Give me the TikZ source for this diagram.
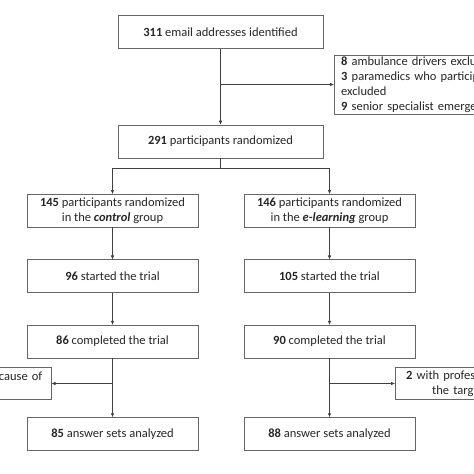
\documentclass[tikz,border=0pt]{standalone}
\usepackage{fontspec}
\setmainfont{Carlito}
\usetikzlibrary{arrows.meta,positioning}

\begin{document}
\begin{tikzpicture}[
  >={Latex[length=4pt,width=3.5pt]},
  every node/.style={font=\fontsize{12.5}{15}\selectfont, text=black!85},
  wbox/.style={draw=black!60, align=center, inner sep=1pt,
               minimum height=33pt, minimum width=205pt},
  sbox/.style={draw=black!60, align=center, inner sep=1pt,
               minimum height=33pt, minimum width=171pt},
  link/.style={draw=black!75, line width=0.6pt},
]
\useasboundingbox (0,0) rectangle (474pt,474pt);
\clip (0,0) rectangle (474pt,474pt);

% main line
\node[wbox] (mail) at (220.5pt,442pt) {\textbf{311} email addresses identified};
\node[wbox, below=76pt of mail] (rand) {\textbf{291} participants randomized};

\node[draw=black!60, anchor=west, align=left, inner xsep=7pt, inner ysep=0.5pt,
      minimum height=59pt, text width=170pt] (excl) at (334pt,389.5pt)
  {\textbf{8} ambulance drivers exclu\\
   \textbf{3} paramedics who particip\\
   excluded\\
   \textbf{9} senior specialist emerge};

% two arms
\node[sbox, below=36pt of rand, xshift=-108pt] (ctrl)
  {\textbf{145} participants randomized\\in the \textbf{\textit{control}} group};
\node[sbox, below=36pt of rand, xshift=109pt] (elrn)
  {\textbf{146} participants randomized\\in the \textbf{\textit{e-learning}} group};

\node[sbox, below=32pt of ctrl] (ctrlstart) {\textbf{96} started the trial};
\node[sbox, below=32pt of elrn] (elrnstart) {\textbf{105} started the trial};
\node[sbox, below=32pt of ctrlstart] (ctrldone) {\textbf{86} completed the trial};
\node[sbox, below=32pt of elrnstart] (elrndone) {\textbf{90} completed the trial};
\node[sbox, below=59pt of ctrldone] (ctrlsets) {\textbf{85} answer sets analyzed};
\node[sbox, below=59pt of elrndone] (elrnsets) {\textbf{88} answer sets analyzed};

\node[draw=black!60, anchor=east, align=right, inner xsep=9pt, inner ysep=1pt,
      minimum height=32pt, text width=90pt] (ctrlout) at (51.5pt,90.5pt)
  {cause of\\~};
\node[draw=black!60, anchor=west, align=left, inner xsep=11pt, inner ysep=1pt,
      minimum height=32pt, text width=120pt] (elrnout) at (395pt,90.5pt)
  {\textbf{2} with profes\\\hspace*{26pt}the targ};

% connectors
\coordinate (exclpt) at (mail.south |- excl.west);
\draw[link, ->] (mail) -- (rand);
\draw[link, ->] (exclpt) -- (excl.west);
\draw[link] (rand.south) -- ++(0,-10.5pt) coordinate (split);
\draw[link, ->] (split) -| (ctrl.north);
\draw[link, ->] (split) -| (elrn.north);

\draw[link, ->] (ctrl) -- (ctrlstart);
\draw[link, ->] (elrn) -- (elrnstart);
\draw[link, ->] (ctrlstart) -- (ctrldone);
\draw[link, ->] (elrnstart) -- (elrndone);
\draw[link, ->] (ctrldone) -- (ctrlsets);
\draw[link, ->] (elrndone) -- (elrnsets);

\coordinate (ctrlpt) at (ctrldone.south |- ctrlout.east);
\coordinate (elrnpt) at (elrndone.south |- elrnout.west);
\draw[link, ->] (ctrlpt) -- (ctrlout.east);
\draw[link, ->] (elrnpt) -- (elrnout.west);
\end{tikzpicture}
\end{document}
